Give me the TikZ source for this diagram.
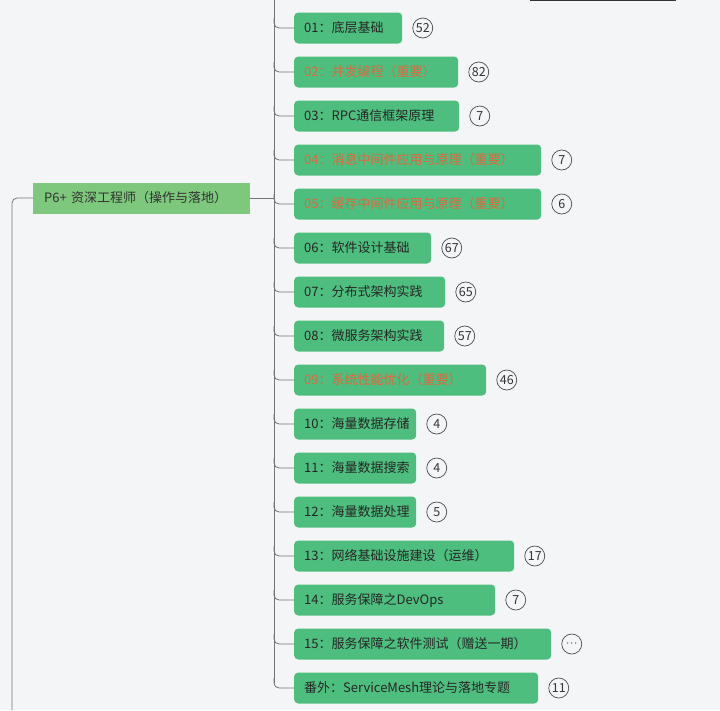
\documentclass[tikz,border=0pt]{standalone}
\usepackage{fontspec}
\setmainfont{Noto Sans CJK SC}
\begin{document}
\begin{tikzpicture}[x=1pt,y=-1pt,
  item/.style={draw=none,fill=boxg,rounded corners=4pt,anchor=west,minimum height=31pt,inner xsep=10pt,align=left,font=\fontsize{13}{15}\selectfont,text=black!85},
  imp/.style={item,text=impr},
  cnt/.style={circle,draw=black!70,line width=0.7pt,minimum size=20pt,inner sep=0pt,font=\fontsize{12.5}{13}\selectfont,text=black!80,anchor=west},
  ln/.style={draw=black!55,line width=0.8pt,rounded corners=5pt}]
\definecolor{boxg}{HTML}{4DBE7E}
\definecolor{parg}{HTML}{7DC87C}
\definecolor{impr}{HTML}{E0683E}
\definecolor{bgc}{HTML}{F4F5F7}
\fill[bgc] (0,0) rectangle (720,710);
\useasboundingbox (0,0) rectangle (720,710);
\draw[black!80,line width=1.5pt] (530,0) -- (676,0);
\coordinate (tt) at (274,0);
\draw[ln,rounded corners=0] (tt) -- (274,683);
\node[draw=none,fill=parg,anchor=west,minimum height=31pt,text width=195pt,inner xsep=11pt,align=left,font=\fontsize{13}{15}\selectfont,text=black!80] (par) at (33,198) {P6+ 资深工程师（操作与落地）};
\coordinate (lb) at (12,710);
\draw[ln] (par.west) -- (12,198) -- (lb);
\coordinate (pj) at (274,198);
\draw[ln] (par.east) -- (pj);
\foreach \i/\t/\w/\s/\c in {
 1/01：底层基础/108/item/52,
 2/02：并发编程（重要）/164/imp/82,
 3/03：RPC通信框架原理/165/item/7,
 4/04：消息中间件应用与原理（重要）/247/imp/7,
 5/05：缓存中间件应用与原理（重要）/247/imp/6,
 6/06：软件设计基础/137/item/67,
 7/07：分布式架构实践/151/item/65,
 8/08：微服务架构实践/150/item/57,
 9/09：系统性能优化（重要）/192/imp/46,
 10/10：海量数据存储/122/item/4,
 11/11：海量数据搜索/122/item/4,
 12/12：海量数据处理/122/item/5,
 13/13：网络基础设施建设（运维）/220/item/17,
 14/14：服务保障之DevOps/201/item/7,
 15/15：服务保障之软件测试（赠送一期）/257/item/{$\cdot\!\cdot\!\cdot$},
 16/番外：ServiceMesh理论与落地专题/244/item/11}{
  \pgfmathsetmacro{\yy}{28+44*(\i-1)}
  \pgfmathsetmacro{\tw}{\w-20}
  \node[\s,text width=\tw pt] (b\i) at (294,\yy) {\t};
  \node[cnt] (c\i) at ([xshift=10pt]b\i.east) {\c};
  \coordinate (j\i) at (274,\yy-10);
  \draw[ln] (j\i) -- (274,\yy) -- (b\i.west);
}
\end{tikzpicture}
\end{document}
